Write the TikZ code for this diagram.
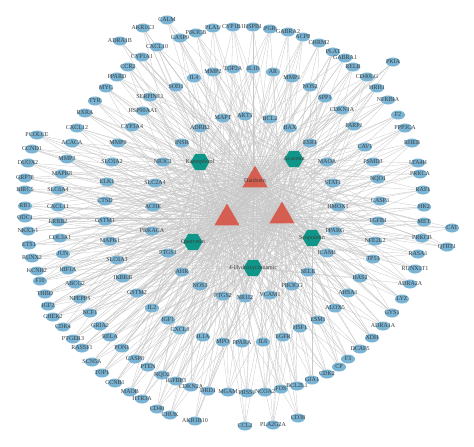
\documentclass[tikz,border=0pt]{standalone}
\usepackage{fontspec}
\setmainfont{Liberation Serif}
\usetikzlibrary{shapes.geometric,backgrounds}
\definecolor{genefill}{RGB}{122,180,212}
\definecolor{trifill}{RGB}{214,94,80}
\definecolor{hexfill}{RGB}{16,150,136}
\definecolor{edgegray}{RGB}{200,200,200}
\definecolor{labelgray}{RGB}{60,60,60}

\begin{document}
\begin{tikzpicture}[x=1pt,y=-1pt,
  gene/.style={ellipse,fill=genefill,minimum width=14pt,minimum height=9pt,inner sep=0pt},
  genelabel/.style={text=labelgray,font=\fontsize{6}{7}\selectfont,inner sep=0pt},
  tri/.style={regular polygon,regular polygon sides=3,fill=trifill,minimum size=29pt,inner sep=0pt},
  hex/.style={regular polygon,regular polygon sides=6,fill=hexfill,minimum size=19pt,inner sep=0pt},
  edge/.style={draw=edgegray,line width=0.3pt}]

 \useasboundingbox (0,0) rectangle (474,447);

	%draw compounds
 \foreach \x/\y/\name/\txt in {255/180/t1/Daidzein,227/218/t2/,282/216/t3/}{
     \node[tri, label={[genelabel]center:\txt}] (\name) at (\x,\y) {};
 }
 \foreach \x/\y/\name/\txt in {200/162/h1/Kaempferol,294/159/h2/Acacetin,193/242/h3/Quercetin,312/238/h4/Scopoletin,253/268/h5/4-Hydroxycinnamic}{
     \node[hex, label={[genelabel]center:\txt}] (\name) at (\x,\y) {};
 }

	%draw genes
 \foreach \x/\y/\name [count=\i] in {
   167/20/CALM, 143/28/AKR1C3, 120/41/ADRA1B, 157/47/CXCL10, 180/38/CASP9, 196/33/PIK3CB,
   213/28/PLAU, 233/27/CYP1B1, 253/27/HSPB1, 270/29/PGR, 288/32/GABRA2, 303/37/ACPP,
   319/43/CHRM2, 333/52/PLAT, 345/58/GABRA1, 353/67/RELB, 393/62/PKIA, 367/77/CD40LG,
   377/88/HRH1, 388/100/NFKBIA, 398/115/F2, 405/128/PPP3CA, 412/143/RHEB, 418/163/LTA4H,
   420/174/PRKCA, 423/190/RAF1, 424/207/HK2, 424/222/MET, 452/228/CAT, 422/238/PRKCB,
   447/247/QTRT1, 418/254/RASA1, 415/269/RUNX1T1, 410/284/ADRA2A, 402/299/LYZ, 392/313/GYS1,
   383/326/ADRA1A, 372/338/XDH, 360/349/DCAF5, 348/359/F3, 339/367/CP, 327/374/CDK2,
   312/380/GJA1, 297/386/BCL2L1, 281/389/FOS, 265/392/NCOA2, 247/393/PRSS1, 228/392/MGAM,
   208/391/DRD1, 191/387/CDKN2A, 176/381/IGFBP3, 162/375/NQO2, 170/415/CHUK, 195/421/AKR1B10,
   245/426/CCL2, 273/425/PLA2G2A, 298/418/CD38, 157/409/CD40, 142/399/HTR3A, 130/392/MAOB,
   115/383/CCNB1, 102/373/TOP1, 92/362/SCN5A, 82/348/RASSF1, 73/339/PTGER3, 110/337/RELA,
   122/348/PON1, 135/359/CASP8, 148/367/PTEN, 63/327/CDK4, 100/326/GRIA2, 53/317/CHEK2,
   90/313/NCF1, 48/306/IGF2, 80/299/NPEPPS, 45/294/THBD, 75/284/ABCG2, 40/281/F10,
   68/270/HIF1A, 37/271/KCNH2, 63/254/JUN, 32/258/RUNX2, 29/245/ETS1, 60/238/COL3A1,
   28/231/NKX3-1, 58/222/ERBB2, 25/218/ODC1, 105/221/GSTM1, 58/207/CXCL11, 25/206/RB1,
   105/201/CTSD, 58/190/SLC6A4, 25/190/BIRC5, 107/182/ELK1, 62/174/MAPK8, 25/178/GRP78,
   28/163/DUOX2, 32/149/CCND1, 37/135/PCOLCE, 77/128/CXCL12, 72/143/ACACA, 67/159/MMP3,
   118/143/MMP9, 112/162/SLC6A2, 132/127/CYP3A4, 155/183/SLC2A4, 153/207/ACHE, 85/113/RXRA,
   95/101/TYR, 106/88/MYC, 117/77/PPARD, 128/67/CCR2, 142/57/CYP1A1, 150/97/SERPINE1,
   143/111/HSP90AA1, 176/87/SOD1, 194/78/IL4, 213/72/MMP2, 233/69/TOP2A, 253/69/IL10,
   273/72/AR, 292/78/MMP1, 310/87/NOS2, 325/98/SPP1, 342/110/CDKN1A, 354/126/PARP1,
   327/162/MAOA, 365/147/CAV1, 373/162/PSMD3, 378/179/NQO1, 333/183/STAT1, 380/201/CASP3,
   338/207/HMOX1, 378/221/TGFB1, 335/231/PPARG, 375/241/NFE2L2, 327/253/ICAM1, 373/259/TP53,
   360/278/HAS2, 348/293/AHSA1, 335/308/ALOX5, 318/320/ESM1, 300/328/HSF1, 308/272/SELE,
   292/286/PIK3CG, 270/295/VCAM1, 245/298/NR1I2, 223/296/PTGS2, 200/286/NOS3, 182/272/AHR,
   168/253/PTGS1, 152/231/PRKACA, 168/320/IGF1, 180/330/CXCL8, 203/337/IL1A, 223/342/MPO,
   242/343/PPARA, 263/342/IL6, 283/337/EGFR, 152/308/IL2, 137/293/GSTM2, 123/278/IKBKB,
   117/260/SLC6A3, 110/241/MAPK1, 200/128/ADRB2, 223/118/MAPT, 245/116/AKT1, 270/119/BCL2,
   290/128/BAX, 182/143/INSR, 310/143/ESR1, 163/162/NR3C1}{
     \node[gene, label={[genelabel]center:\name}] (g\i) at (\x,\y) {};
     \xdef\ngenes{\i}
 }

	%draw edges
 \begin{pgfonlayer}{background}
 \fill[white] (0,0) rectangle (474,447);
 \foreach \i in {1,...,\ngenes}{
     \foreach \t in {t1,t2,t3}
         \draw[edge] (g\i) -- (\t);
     \pgfmathtruncatemacro{\h}{mod(\i,5)+1}
     \draw[edge] (g\i) -- (h\h);
     \ifodd\i\else
         \pgfmathtruncatemacro{\k}{mod(\i+2,5)+1}
         \draw[edge] (g\i) -- (h\k);
     \fi
 }
 \end{pgfonlayer}

\end{tikzpicture}
\end{document}
